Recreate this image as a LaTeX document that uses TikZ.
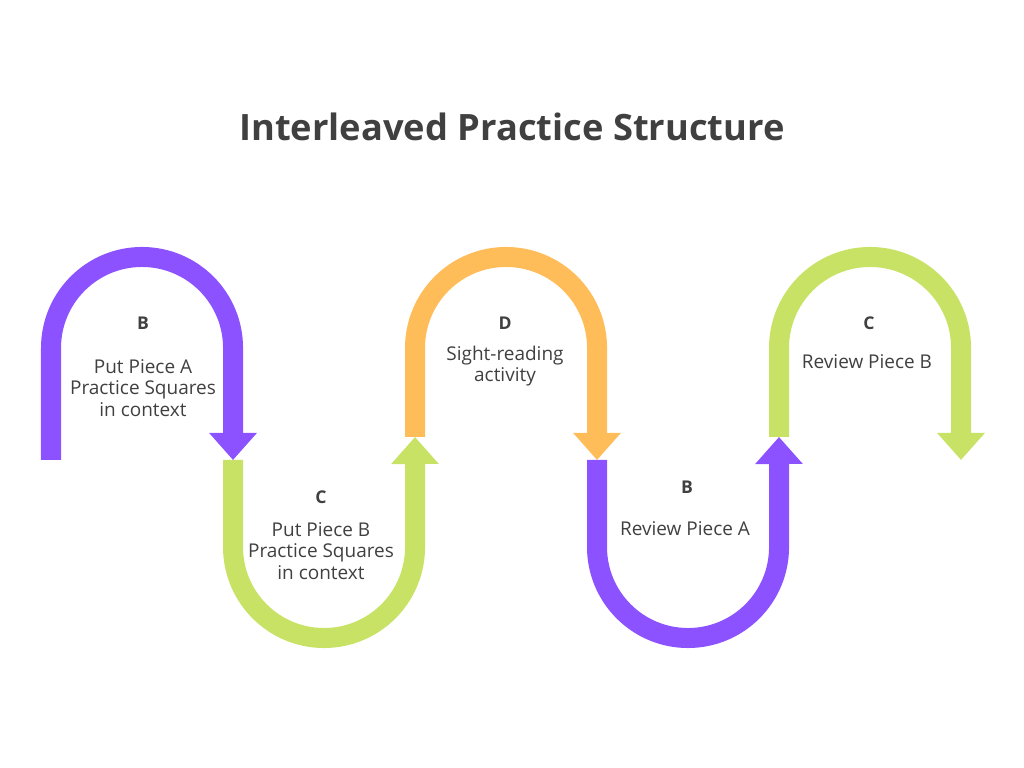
\documentclass[tikz,border=0pt]{standalone}
\usepackage{fontspec}
\setmainfont{Open Sans}
\usepackage{tikz}
\usetikzlibrary{arrows.meta}
\definecolor{bandpurple}{RGB}{140,82,255}
\definecolor{bandgreen}{RGB}{200,226,102}
\definecolor{bandorange}{RGB}{255,189,89}
\definecolor{titlegray}{RGB}{64,64,64}

\begin{document}
\begin{tikzpicture}[
    x=0.025cm, y=0.025cm,
    band/.style={line width=0.5cm, -{Triangle[width=11.5mm, length=6.75mm]}},
    phase/.style={font=\fontsize{12.5}{15.5}\selectfont\bfseries, color=titlegray},
    task/.style={font=\fontsize{13.5}{15.5}\selectfont, color=titlegray, align=center}
]
\useasboundingbox (0,0) rectangle (1024,768);

\node[font=\fontsize{25.8}{30}\selectfont\bfseries, color=titlegray] (title) at (512,641) {Interleaved Practice Structure};

% bands, last one first so each arrow lies on top
\draw[band, bandgreen] (779,331) -- (779,420) arc[start angle=180, end angle=0, radius=2.275cm] -- (961,308);
\draw[band, bandpurple] (597,308) -- (597,221) arc[start angle=180, end angle=360, radius=2.275cm] -- (779,331);
\draw[band, bandorange] (415,331) -- (415,420) arc[start angle=180, end angle=0, radius=2.275cm] -- (597,308);
\draw[band, bandgreen] (233,308) -- (233,221) arc[start angle=180, end angle=360, radius=2.275cm] -- (415,331);
\draw[band, bandpurple] (51,308) -- (51,420) arc[start angle=180, end angle=0, radius=2.275cm] -- (233,308);

% labels
\node[phase] (s1) at (143,445) {B};
\node[task] (t1) at (143,380) {Put Piece A\\Practice Squares\\in context};
\node[phase] (s2) at (321,271) {C};
\node[task] (t2) at (321,217) {Put Piece B\\Practice Squares\\in context};
\node[phase] (s3) at (505,445) {D};
\node[task] (t3) at (505,402) {Sight-reading\\activity};
\node[phase] (s4) at (687,281) {B};
\node[task] (t4) at (685,239) {Review Piece A};
\node[phase] (s5) at (869,445) {C};
\node[task] (t5) at (867,406) {Review Piece B};
\end{tikzpicture}
\end{document}
